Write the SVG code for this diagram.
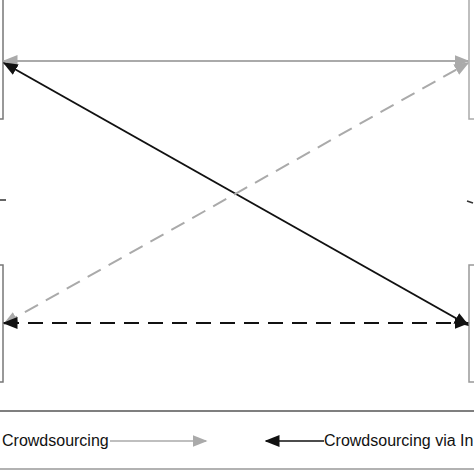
<svg xmlns="http://www.w3.org/2000/svg" width="474" height="474" viewBox="0 0 474 474">
<style>
.box{fill:#fff;stroke:#777;stroke-width:1.5}
.gray{stroke:#aaa;stroke-width:2;fill:none}
.blk{stroke:#111;stroke-width:2;fill:none}
.dash{stroke-dasharray:15,9}
.lbl{font-family:"Liberation Sans",Arial,sans-serif;font-size:16px;fill:#111}
</style>
<defs>
<marker id="agL" viewBox="0 0 10 10" refX="9" refY="5" markerWidth="15" markerHeight="15" orient="auto-start-reverse" markerUnits="userSpaceOnUse"><path d="M0,1L10,5L0,9z" fill="#aaa"/></marker>
<marker id="abL" viewBox="0 0 10 10" refX="9" refY="5" markerWidth="15" markerHeight="15" orient="auto-start-reverse" markerUnits="userSpaceOnUse"><path d="M0,1L10,5L0,9z" fill="#111"/></marker>
</defs>
<rect width="474" height="474" fill="#fff"/>
<g id="node-tl"><rect class="box" x="-20" y="-5" width="23" height="124"/></g>
<g id="node-bl"><rect class="box" x="-20" y="265" width="23" height="117"/></g>
<g id="node-tr"><rect class="box" x="469" y="-5" width="30" height="124" style="stroke:#aaa"/></g>
<g id="node-br"><rect class="box" x="469" y="265" width="30" height="117" style="stroke:#999"/></g>
<g id="ticks">
<line x1="0" y1="200" x2="6" y2="200" stroke="#333" stroke-width="1.5"/>
<line x1="467" y1="201" x2="473" y2="203" stroke="#333" stroke-width="1.5"/>
</g>
<g id="connectors">
<line class="gray" x1="4" y1="61" x2="468" y2="61" marker-start="url(#agL)" marker-end="url(#agL)"/>
<line class="blk" x1="4" y1="63" x2="468" y2="325" marker-start="url(#abL)" marker-end="url(#abL)"/>
<line class="gray dash" x1="4" y1="324" x2="468" y2="63" marker-start="url(#agL)" marker-end="url(#agL)"/>
<line class="blk dash" x1="4" y1="323" x2="468" y2="323" marker-start="url(#abL)" marker-end="url(#abL)"/>
</g>
<g id="legend">
<line x1="0" y1="411" x2="474" y2="411" stroke="#555" stroke-width="1.5"/>
<line x1="0" y1="469" x2="474" y2="469" stroke="#999" stroke-width="1.5"/>
<text class="lbl" x="2" y="446">Crowdsourcing</text>
<line class="gray" x1="110" y1="441" x2="206" y2="441" marker-end="url(#agL)" style="stroke-width:1.5"/>
<line class="blk" x1="324" y1="441" x2="266" y2="441" marker-end="url(#abL)" style="stroke-width:1.5"/>
<text class="lbl" x="324" y="446">Crowdsourcing via In</text>
</g>
</svg>
